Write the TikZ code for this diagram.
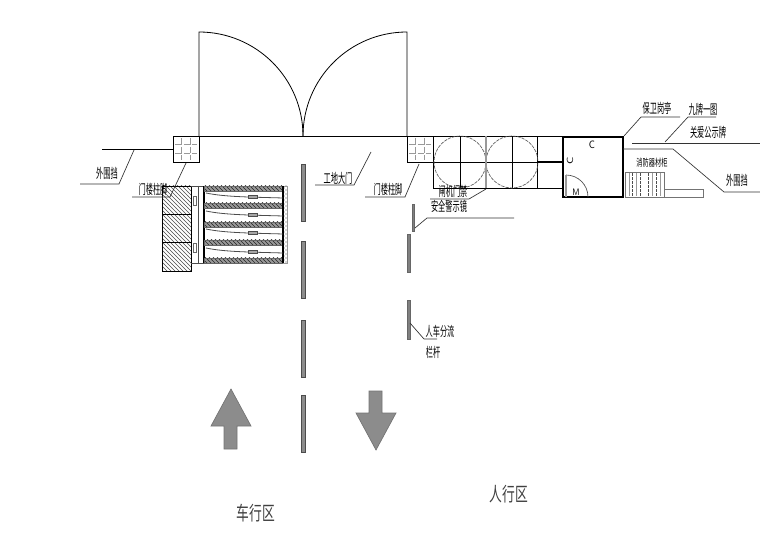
\documentclass[tikz,border=0pt]{standalone}
\usepackage{fontspec}
\newfontfamily\cjk{Noto Sans CJK SC}
\usetikzlibrary{patterns}
\tikzstyle{lbl}=[font=\cjk\fontsize{10}{10}\selectfont,inner sep=0pt,xscale=.54,transform shape]
\tikzstyle{biglbl}=[font=\cjk\fontsize{14.5}{15}\selectfont,inner sep=0pt,xscale=.66,transform shape,text=black!75]
\tikzstyle{leader}=[black!80,line width=.5pt]
\tikzstyle{wall}=[black,line width=.6pt]
\tikzstyle{roaddash}=[fill=black!45,draw=black!70,line width=.5pt]
\tikzstyle{bigarrow}=[fill=black!45,draw=black!55,line width=.5pt]
\tikzstyle{hatchbar}=[pattern=north west lines,pattern color=black!85,draw=black!60,line width=.4pt,preaction={fill=black!40}]
\tikzstyle{pierline}=[black!40,line width=.6pt]
\tikzstyle{rail}=[fill=black!50,draw=black!60,line width=.4pt]

\begin{document}
\begin{tikzpicture}[x=.75pt,y=-.75pt]
      \useasboundingbox (0,0) rectangle (760,552);

      \draw[wall] (199,136) -- (199,32) arc[start angle=-90,end angle=0,radius=104];
      \draw[wall] (407,136) -- (407,32) arc[start angle=-90,end angle=-180,radius=104];
      \draw[wall] (199,136) -- (563,136);

      \draw[wall] (173,136) rectangle (199,162);
      \draw[wall] (407,136) rectangle (433,162);
      \foreach \px in {173,407} {
        \foreach \gx in {8,17} \draw[pierline,dash pattern=on 5pt off 1.5pt] (\px+\gx,138) -- (\px+\gx,160);
        \foreach \gy in {144,153} \draw[pierline,dash pattern=on 5pt off 1.5pt] (\px+2,\gy) -- (\px+24,\gy);
      }
      \draw[wall] (102,149) -- (173,149);

      \draw[pattern=north west lines,pattern color=black!70,draw=black] (162,186) rectangle (191,271);
      \draw[wall] (162,214) -- (191,214);
      \draw[wall] (162,242) -- (191,242);
      \draw[black!70,line width=.5pt] (191,186) -- (204,186);
      \draw[black!70,line width=.5pt] (191,263) -- (204,263);
      \draw[black!70,line width=.5pt] (198,186) -- (198,263);
      \draw[black,line width=1pt] (204,186) -- (204,263);
      \foreach \ay in {196,243} \draw[black!60,fill=white,line width=.4pt] (193,\ay) rectangle (196,\ay+9);
      \foreach \by in {186,203,222,240,258} \draw[hatchbar] (204,\by) rectangle (283,\by+5);
      \draw[pattern=crosshatch dots,pattern color=black!70,draw=black!40,line width=.3pt] (283,186) rectangle (287,263);
      \draw[black,line width=.8pt] (283,186) -- (283,263);
      \foreach \ly in {197,215,233,252} {
        \draw[black!70,line width=.6pt] (206,\ly-4) .. controls (225,\ly) and (250,\ly) .. (283,\ly+1);
        \draw[black!70,fill=black!35,line width=.4pt] (248,\ly-1.5) rectangle (257,\ly+1.5);
      }

      \foreach \ry in {164,241,320,395} \draw[roaddash] (301.5,\ry) rectangle (305.5,\ry+57);

      \draw[bigarrow] (231,389) -- (251,426) -- (237,426) -- (237,449) -- (224,449) -- (224,426) -- (211,426) -- cycle;
      \draw[bigarrow] (376,450) -- (396,413) -- (382,413) -- (382,391) -- (369,391) -- (369,413) -- (356,413) -- cycle;

      \draw[wall] (433,136) rectangle (537,188);
      \draw[wall] (433,162) -- (537,162);
      \draw[wall] (460,136) -- (460,188);
      \draw[wall] (512,136) -- (512,188);
      \draw[black!65,dash pattern=on 2.5pt off .8pt,line width=.5pt] (460,162) circle (26);
      \draw[black!65,dash pattern=on 2.5pt off .8pt,line width=.5pt] (512,162) circle (26);
      \draw[black!40,line width=1.2pt] (486,136) -- (486,188);
      \draw[wall] (537,136) -- (563,136);
      \draw[black,line width=1pt] (537,162) -- (563,162);
      \draw[wall] (537,188) -- (563,188);

      \draw[black,line width=1.3pt] (563,137) rectangle (623,197);
      \draw[black!70,line width=.5pt] (566,175) arc[start angle=-90,end angle=0,radius=22];
      \draw[black!40,line width=1.2pt] (566,175) -- (566,197);
      \node[lbl,font=\fontsize{8}{8}\selectfont\sffamily,xscale=1.54] (cright) at (592,145) {C};
      \node[lbl,font=\fontsize{8}{8}\selectfont\sffamily,xscale=1.54,rotate=90] (cleft) at (570,161) {C};
      \node[lbl,font=\fontsize{7}{7}\selectfont\sffamily,xscale=1.54] (mdoor) at (576,192) {M};

      \draw[black!55,line width=.6pt] (625,172) rectangle (664,197);
      \foreach \cx in {632,640,648,656} \draw[black!70,dash pattern=on 2pt off 1pt,line width=.4pt] (\cx,173) -- (\cx,196);
      \foreach \cx in {629,636,652,660} \draw[black!40,line width=.5pt] (\cx,173) -- (\cx,196);
      \draw[black!55,line width=.6pt] (664,189) rectangle (703,197);

      \draw[rail] (412,204) rectangle (414.5,231);
      \draw[rail] (407.5,234) rectangle (410.5,272);
      \draw[rail] (407.5,300) rectangle (410.5,339);

      \node[lbl] (wai1) at (107,173.5) {外围挡};
      \node[lbl] (zhu1) at (153,189.5) {门楼柱脚};
      \node[lbl] (gate) at (338,178) {工地大门};
      \node[lbl] (zhu2) at (388,189) {门楼柱脚};
      \node[lbl] (zhaji) at (453,191) {闸机门禁};
      \node[lbl] (jing) at (449,206) {安全警示镜};
      \node[lbl] (fenliu) at (440,331) {人车分流};
      \node[lbl] (langan) at (433,352) {栏杆};
      \node[lbl] (gangting) at (657,108) {保卫岗亭};
      \node[lbl] (jiupai) at (703,109) {九牌一图};
      \node[lbl] (guanai) at (708,132) {关爱公示牌};
      \node[lbl,font=\cjk\fontsize{7.5}{8}\selectfont,xscale=1.15] (xiaofang) at (652,162.5) {消防器材柜};
      \node[lbl] (wai2) at (737,180) {外围挡};
      \node[biglbl] (chexing) at (256,513) {车行区};
      \node[biglbl] (renxing) at (509,494) {人行区};

      \coordinate (a1) at (134,150);
      \coordinate (a2) at (186,163);
      \coordinate (a3) at (371,152);
      \coordinate (a4) at (419,164);
      \coordinate (a5) at (486,189);
      \coordinate (a6) at (415,228);
      \coordinate (a7) at (410,323);
      \coordinate (a8) at (624,136);
      \coordinate (a9) at (665,142);
      \coordinate (a10) at (623,149);

      \draw[leader] (a1) -- (119,184) -- (80,184);
      \draw[leader] (a2) -- (170,197) -- (132,197);
      \draw[leader] (a3) -- (354,185) -- (315,185);
      \draw[leader] (a4) -- (405,197) -- (365,197);
      \draw[leader] (a5) -- (469,199) -- (430,199);
      \draw[leader] (a6) -- (427,218) -- (514,218);
      \draw[leader] (a7) -- (424,339) -- (437,339);
      \draw[leader] (a8) -- (641,117) -- (680,117);
      \draw[leader] (a9) -- (688,117) -- (716,117);
      \draw[leader] (632,143) -- (760,143);
      \draw[leader] (a10) -- (673,149) -- (724,192) -- (760,192);
\end{tikzpicture}
\end{document}
